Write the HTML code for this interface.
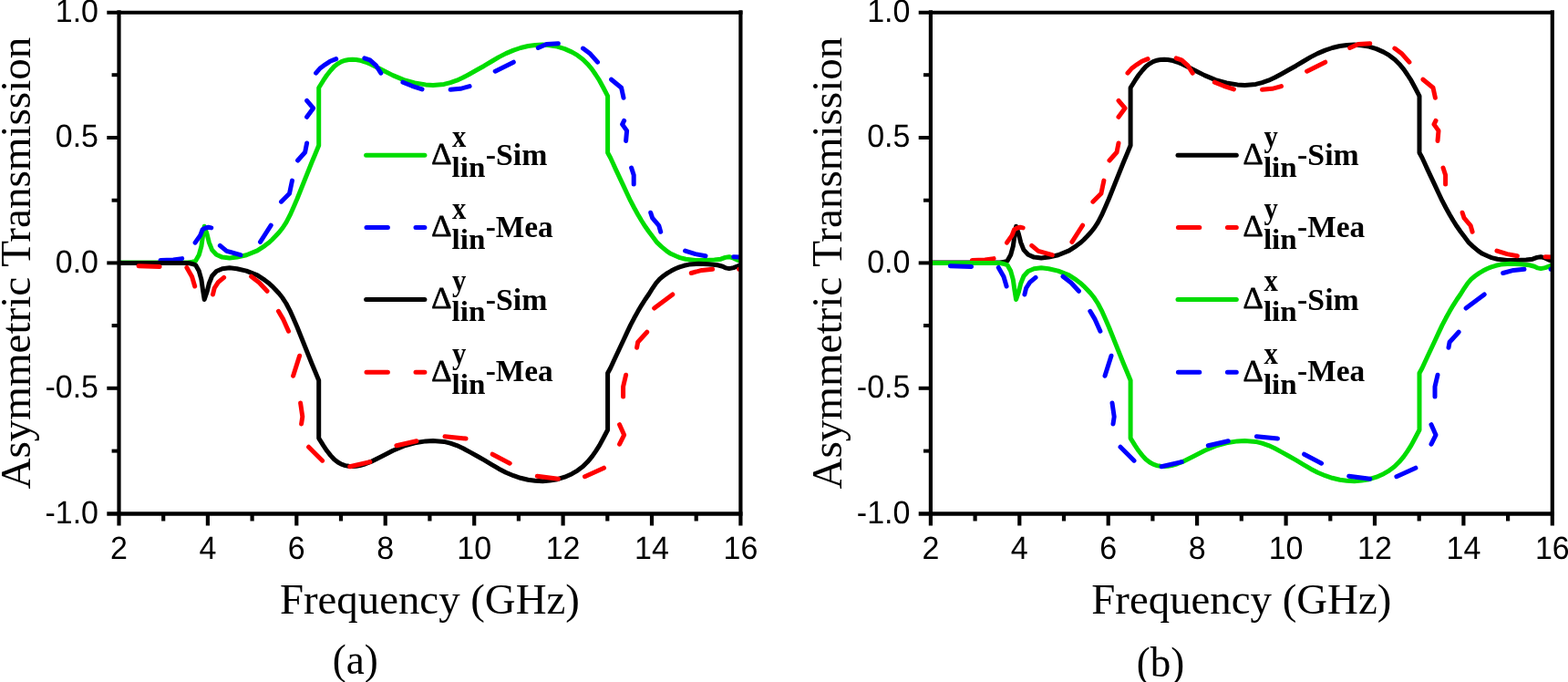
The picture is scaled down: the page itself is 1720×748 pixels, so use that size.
<!DOCTYPE html>
<html lang="en">
<head>
<meta charset="utf-8">
<title>Asymmetric Transmission</title>
<style>
html,body{margin:0;padding:0;background:#fff;}
body{width:1720px;height:748px;overflow:hidden;}
svg{display:block;}
</style>
</head>
<body>
<svg width="1720" height="748" viewBox="0 0 1720 748">
<rect x="0" y="0" width="1720" height="748" fill="#ffffff"/>
<!-- chart (a) -->
<clipPath id="clipa"><rect x="130.5" y="13.75" width="680.4" height="549.8"/></clipPath>
<g clip-path="url(#clipa)">
<polyline points="130.5,288.0 200.0,288.0 206.0,288.0 210.0,287.6 214.5,286.2 218.3,279.5 220.9,270.1 222.6,258.1 224.2,248.3 227.0,256.5 229.4,266.1 232.6,274.1 237.4,279.3 243.8,282.1 251.8,283.0 259.9,282.1 270.3,279.7 282.3,274.9 290.4,269.6 294.4,266.6 298.4,263.0 302.0,259.3 306.0,255.0 310.0,250.0 314.0,243.8 318.0,236.2 322.0,227.3 326.0,218.0 330.0,208.0 334.0,198.0 338.0,188.0 342.0,178.0 346.0,168.5 349.7,159.5 349.7,96.2 354.7,88.2 358.5,82.5 362.7,77.2 366.5,73.0 370.7,69.8 374.5,67.6 378.7,66.2 382.5,65.5 386.7,65.2 390.7,65.5 394.8,66.2 400.8,68.0 406.8,70.4 412.8,73.4 418.8,76.4 430.9,82.6 442.9,87.6 454.9,91.0 467.0,92.9 475.0,93.4 487.0,92.4 494.0,90.6 501.1,88.2 508.0,85.0 515.1,81.2 523.0,76.8 531.2,72.2 539.0,67.5 547.2,62.6 555.0,58.6 563.3,55.1 571.0,52.5 579.3,50.5 587.0,49.5 595.3,49.1 603.0,49.7 611.4,51.1 619.5,53.6 627.4,57.1 633.5,60.7 639.5,65.2 644.5,70.2 649.5,76.2 653.5,82.0 657.5,88.2 662.0,96.5 666.6,105.3 666.6,167.5 669.6,173.0 672.6,179.5 675.6,186.1 679.6,194.6 683.6,203.1 687.6,211.7 691.6,220.2 695.7,228.0 699.7,235.2 703.7,242.0 707.7,248.3 711.7,254.0 715.7,259.3 720.9,266.2 725.7,270.6 731.4,275.4 735.8,278.3 741.9,281.0 745.8,282.6 752.3,284.2 762.8,285.6 773.3,285.6 783.7,285.1 790.7,284.2 795.6,282.4 799.8,281.7 804.7,283.1 810.2,285.6 812.3,286.3" fill="none" stroke="#00dc00" stroke-width="5.0" stroke-linejoin="round" stroke-linecap="butt"/>
<path d="M176.0 285.4 L190.1 285.0 L199.7 283.6 M214.1 266.1 L219.7 258.1 L222.2 251.7 L225.5 250.0 L228.6 249.3 L231.8 249.9 M241.4 269.3 L248.6 275.3 L263.9 279.7 M285.5 265.3 L297.2 247.2 M308.5 221.2 L317.5 212.2 L320.5 198.1 M326.6 176.0 L334.6 167.0 L336.6 157.0 M336.6 128.3 L343.6 118.7 L336.6 110.3 M346.6 80.2 L351.0 75.0 L356.7 70.8 L362.0 67.3 L368.7 64.6 M399.8 63.8 L405.8 65.8 L412.8 72.2 L417.8 80.2 M441.9 90.2 L452.0 94.3 L463.0 97.9 M494.1 98.3 L505.1 97.3 L515.1 94.6 M543.2 78.2 L563.3 68.2 M590.3 52.5 L599.4 48.5 L612.4 47.7 M639.5 53.1 L647.5 59.1 L655.5 68.2 M670.6 87.2 L681.6 96.3 L684.0 107.3 M684.6 132.4 L682.6 136.4 L687.6 143.4 L686.6 154.4 M692.6 184.1 L695.2 192.1 L695.2 202.1 M713.7 233.2 L715.7 239.2 L722.7 247.3 L724.7 254.3 M751.6 275.1 L762.8 278.6 L774.0 280.7 M804.7 281.7 L812.3 282.1" fill="none" stroke="#0000ff" stroke-width="5.0" stroke-linejoin="round" stroke-linecap="round"/>
<polyline points="130.5,288.4 200.0,288.4 206.0,288.4 210.0,289.2 214.5,290.6 218.3,297.3 220.9,306.7 222.6,318.7 224.2,328.5 227.0,320.3 229.4,310.7 232.6,302.7 237.4,297.5 243.8,294.7 251.8,293.8 259.9,294.7 270.3,297.1 282.3,301.9 290.4,307.2 294.4,310.2 298.4,313.8 302.0,317.5 306.0,321.8 310.0,326.8 314.0,333.0 318.0,340.6 322.0,349.5 326.0,358.8 330.0,368.8 334.0,378.8 338.0,388.8 342.0,398.8 346.0,408.3 349.7,417.3 349.7,480.6 354.7,488.6 358.5,494.3 362.7,499.6 366.5,503.8 370.7,507.0 374.5,509.2 378.7,510.6 382.5,511.3 386.7,511.6 390.7,511.3 394.8,510.6 400.8,508.8 406.8,506.4 412.8,503.4 418.8,500.4 430.9,494.2 442.9,489.2 454.9,485.8 467.0,483.9 475.0,483.4 487.0,484.4 494.0,486.2 501.1,488.6 508.0,491.8 515.1,495.6 523.0,500.0 531.2,504.6 539.0,509.3 547.2,514.2 555.0,518.2 563.3,521.7 571.0,524.3 579.3,526.3 587.0,527.3 595.3,527.7 603.0,527.1 611.4,525.7 619.5,523.2 627.4,519.7 633.5,516.1 639.5,511.6 644.5,506.6 649.5,500.6 653.5,494.8 657.5,488.6 662.0,480.3 666.6,471.5 666.6,409.3 669.6,403.8 672.6,397.3 675.6,390.7 679.6,382.2 683.6,373.7 687.6,365.1 691.6,356.6 695.7,348.8 699.7,341.6 703.7,334.8 707.7,328.5 711.7,322.8 715.7,316.3 719.6,310.6 723.5,306.2 727.9,302.5 732.0,299.6 736.3,297.1 740.8,294.8 745.4,292.9 750.5,291.3 755.8,290.1 766.3,289.2 776.7,289.7 787.2,290.8 792.8,292.2 796.3,293.9 799.8,294.6 804.7,293.6 810.2,291.5 812.3,291.0" fill="none" stroke="#000000" stroke-width="5.0" stroke-linejoin="round" stroke-linecap="butt"/>
<path d="M152.0 291.7 L175.2 292.5 M204.9 293.4 L210.6 303.5 L213.7 314.0 M233.5 323.0 L235.2 316.0 L239.3 309.7 L245.6 304.4 M275.6 303.2 L284.4 310.0 L293.0 319.3 M305.4 341.3 L310.8 350.4 L316.5 363.2 M328.6 390.2 L321.6 412.3 M329.6 442.0 L331.8 457.0 L330.6 465.0 M338.6 490.2 L353.6 505.2 M383.7 511.8 L405.8 506.6 M434.9 488.8 L456.9 483.8 M488.0 478.7 L511.1 481.1 M540.2 498.2 L559.2 508.2 M589.3 522.3 L612.4 525.3 M641.5 522.7 L662.5 513.2 M679.6 487.2 L684.6 477.1 L679.6 465.7 M683.6 435.0 L683.6 424.0 L686.6 411.3 M698.6 381.2 L699.7 375.2 L709.7 364.2 M717.7 338.1 L737.8 323.0 M758.3 299.5 L769.8 296.4 L781.6 295.3 M810.6 295.2 L812.3 295.0" fill="none" stroke="#ff0000" stroke-width="5.0" stroke-linejoin="round" stroke-linecap="round"/>
</g>
<g stroke="#000" stroke-width="4.0" fill="none" stroke-linecap="butt">
<line x1="117.3" y1="13.75" x2="814.5" y2="13.75"/>
<line x1="117.3" y1="563.5" x2="814.5" y2="563.5" stroke-width="4.3"/>
<line x1="117.3" y1="151.0" x2="130.5" y2="151.0"/>
<line x1="117.3" y1="288.4" x2="130.5" y2="288.4"/>
<line x1="117.3" y1="425.8" x2="130.5" y2="425.8"/>
<line x1="122.6" y1="82.2" x2="130.5" y2="82.2"/>
<line x1="122.6" y1="219.7" x2="130.5" y2="219.7"/>
<line x1="122.6" y1="357.1" x2="130.5" y2="357.1"/>
<line x1="122.6" y1="494.6" x2="130.5" y2="494.6"/>
</g>
<g stroke="#000" stroke-width="4.2" fill="none" stroke-linecap="butt">
<line x1="130.5" y1="11.3" x2="130.5" y2="576.5"/>
<line x1="812.4" y1="11.3" x2="812.4" y2="576.5"/>
<line x1="227.9" y1="563.5" x2="227.9" y2="576.5"/>
<line x1="325.3" y1="563.5" x2="325.3" y2="576.5"/>
<line x1="422.7" y1="563.5" x2="422.7" y2="576.5"/>
<line x1="520.2" y1="563.5" x2="520.2" y2="576.5"/>
<line x1="617.6" y1="563.5" x2="617.6" y2="576.5"/>
<line x1="715.0" y1="563.5" x2="715.0" y2="576.5"/>
<line x1="179.2" y1="563.5" x2="179.2" y2="571.5"/>
<line x1="276.6" y1="563.5" x2="276.6" y2="571.5"/>
<line x1="374.0" y1="563.5" x2="374.0" y2="571.5"/>
<line x1="471.4" y1="563.5" x2="471.4" y2="571.5"/>
<line x1="568.9" y1="563.5" x2="568.9" y2="571.5"/>
<line x1="666.3" y1="563.5" x2="666.3" y2="571.5"/>
<line x1="763.7" y1="563.5" x2="763.7" y2="571.5"/>
</g>
<g font-family="'Liberation Sans', Arial, sans-serif" font-size="34" fill="#000" text-rendering="geometricPrecision">
<text transform="translate(108.0,23.8) scale(1,1.034)" text-anchor="end">1.0</text>
<text transform="translate(108.0,161.3) scale(1,1.034)" text-anchor="end">0.5</text>
<text transform="translate(108.0,298.7) scale(1,1.034)" text-anchor="end">0.0</text>
<text transform="translate(108.0,436.1) scale(1,1.034)" text-anchor="end">-0.5</text>
<text transform="translate(108.0,573.6) scale(1,1.034)" text-anchor="end">-1.0</text>
<text transform="translate(130.5,612.9) scale(1,1.034)" text-anchor="middle">2</text>
<text transform="translate(227.9,612.9) scale(1,1.034)" text-anchor="middle">4</text>
<text transform="translate(325.3,612.9) scale(1,1.034)" text-anchor="middle">6</text>
<text transform="translate(422.7,612.9) scale(1,1.034)" text-anchor="middle">8</text>
<text transform="translate(520.2,612.9) scale(1,1.034)" text-anchor="middle">10</text>
<text transform="translate(617.6,612.9) scale(1,1.034)" text-anchor="middle">12</text>
<text transform="translate(715.0,612.9) scale(1,1.034)" text-anchor="middle">14</text>
<text transform="translate(812.4,612.9) scale(1,1.034)" text-anchor="middle">16</text>
</g>
<g font-family="'Liberation Serif', 'Times New Roman', serif" font-size="46.4" fill="#000">
<text x="471.4" y="672.7" text-anchor="middle" textLength="329" lengthAdjust="spacingAndGlyphs">Frequency (GHz)</text>
<text transform="translate(32.6,288.6) rotate(-90)" text-anchor="middle" textLength="496" lengthAdjust="spacingAndGlyphs">Asymmetric Transmission</text>
<text x="364.7" y="738.9" textLength="50.1" lengthAdjust="spacingAndGlyphs">(a)</text>
</g>
<path d="M401.6 170.3 L465.9 170.3" stroke="#00dc00" stroke-width="5.0" stroke-linecap="round" fill="none"/>
<g font-family="'Liberation Serif', 'Times New Roman', serif" font-size="33.5" fill="#000">
<text x="473.2" y="180.1" font-size="34.6" stroke="#000" stroke-width="0.8" stroke-linejoin="miter">Δ</text>
<text transform="translate(496.0,160.6) scale(0.914,1)" font-weight="bold" font-size="33.5">x</text>
<text transform="translate(495.5,193.6) scale(1.025,1)" font-weight="bold" font-size="32.3">lin</text>
<text transform="translate(532.7,181.4) scale(0.975,1)" font-weight="bold" font-size="34.7">-Sim</text>
</g>
<path d="M402.0 249.5 L425.4 249.5 M456.0 249.5 L465.9 249.5" stroke="#0000ff" stroke-width="5.0" stroke-linecap="round" fill="none"/>
<g font-family="'Liberation Serif', 'Times New Roman', serif" font-size="33.5" fill="#000">
<text x="473.2" y="259.3" font-size="34.6" stroke="#000" stroke-width="0.8" stroke-linejoin="miter">Δ</text>
<text transform="translate(496.0,239.8) scale(0.914,1)" font-weight="bold" font-size="33.5">x</text>
<text transform="translate(495.5,272.8) scale(1.025,1)" font-weight="bold" font-size="32.3">lin</text>
<text transform="translate(532.7,259.5) scale(0.962,1)" font-weight="bold" font-size="34.7">-Mea</text>
</g>
<path d="M401.6 328.6 L465.9 328.6" stroke="#000000" stroke-width="5.0" stroke-linecap="round" fill="none"/>
<g font-family="'Liberation Serif', 'Times New Roman', serif" font-size="33.5" fill="#000">
<text x="473.2" y="338.4" font-size="34.6" stroke="#000" stroke-width="0.8" stroke-linejoin="miter">Δ</text>
<text transform="translate(496.0,318.9) scale(0.914,1)" font-weight="bold" font-size="33.5">y</text>
<text transform="translate(495.5,351.9) scale(1.025,1)" font-weight="bold" font-size="32.3">lin</text>
<text transform="translate(532.7,339.7) scale(0.975,1)" font-weight="bold" font-size="34.7">-Sim</text>
</g>
<path d="M402.0 408.3 L425.4 408.3 M456.0 408.3 L465.9 408.3" stroke="#ff0000" stroke-width="5.0" stroke-linecap="round" fill="none"/>
<g font-family="'Liberation Serif', 'Times New Roman', serif" font-size="33.5" fill="#000">
<text x="473.2" y="418.1" font-size="34.6" stroke="#000" stroke-width="0.8" stroke-linejoin="miter">Δ</text>
<text transform="translate(496.0,398.6) scale(0.914,1)" font-weight="bold" font-size="33.5">y</text>
<text transform="translate(495.5,431.6) scale(1.025,1)" font-weight="bold" font-size="32.3">lin</text>
<text transform="translate(532.7,418.3) scale(0.962,1)" font-weight="bold" font-size="34.7">-Mea</text>
</g>
<!-- chart (b) -->
<clipPath id="clipb"><rect x="1020.9" y="13.75" width="680.4" height="549.8"/></clipPath>
<g clip-path="url(#clipb)">
<polyline points="1020.9,288.0 1090.4,288.0 1096.4,288.0 1100.4,287.6 1104.9,286.2 1108.7,279.5 1111.3,270.1 1113.0,258.1 1114.6,248.3 1117.4,256.5 1119.8,266.1 1123.0,274.1 1127.8,279.3 1134.2,282.1 1142.2,283.0 1150.3,282.1 1160.7,279.7 1172.7,274.9 1180.8,269.6 1184.8,266.6 1188.8,263.0 1192.4,259.3 1196.4,255.0 1200.4,250.0 1204.4,243.8 1208.4,236.2 1212.4,227.3 1216.4,218.0 1220.4,208.0 1224.4,198.0 1228.4,188.0 1232.4,178.0 1236.4,168.5 1240.1,159.5 1240.1,96.2 1245.1,88.2 1248.9,82.5 1253.1,77.2 1256.9,73.0 1261.1,69.8 1264.9,67.6 1269.1,66.2 1272.9,65.5 1277.1,65.2 1281.1,65.5 1285.2,66.2 1291.2,68.0 1297.2,70.4 1303.2,73.4 1309.2,76.4 1321.3,82.6 1333.3,87.6 1345.3,91.0 1357.4,92.9 1365.4,93.4 1377.4,92.4 1384.4,90.6 1391.5,88.2 1398.4,85.0 1405.5,81.2 1413.4,76.8 1421.6,72.2 1429.4,67.5 1437.6,62.6 1445.4,58.6 1453.7,55.1 1461.4,52.5 1469.7,50.5 1477.4,49.5 1485.7,49.1 1493.4,49.7 1501.8,51.1 1509.9,53.6 1517.8,57.1 1523.9,60.7 1529.9,65.2 1534.9,70.2 1539.9,76.2 1543.9,82.0 1547.9,88.2 1552.4,96.5 1557.0,105.3 1557.0,167.5 1560.0,173.0 1563.0,179.5 1566.0,186.1 1570.0,194.6 1574.0,203.1 1578.0,211.7 1582.0,220.2 1586.1,228.0 1590.1,235.2 1594.1,242.0 1598.1,248.3 1602.1,254.0 1606.1,259.3 1611.3,266.2 1616.1,270.6 1621.8,275.4 1626.2,278.3 1632.3,281.0 1636.2,282.6 1642.7,284.2 1653.2,285.6 1663.7,285.6 1674.1,285.1 1681.1,284.2 1686.0,282.4 1690.2,281.7 1695.1,283.1 1700.6,285.6 1702.7,286.3" fill="none" stroke="#000000" stroke-width="5.0" stroke-linejoin="round" stroke-linecap="butt"/>
<path d="M1066.4 285.4 L1080.5 285.0 L1090.1 283.6 M1104.5 266.1 L1110.1 258.1 L1112.6 251.7 L1115.9 250.0 L1119.0 249.3 L1122.2 249.9 M1131.8 269.3 L1139.0 275.3 L1154.3 279.7 M1175.9 265.3 L1187.6 247.2 M1198.9 221.2 L1207.9 212.2 L1210.9 198.1 M1217.0 176.0 L1225.0 167.0 L1227.0 157.0 M1227.0 128.3 L1234.0 118.7 L1227.0 110.3 M1237.0 80.2 L1241.4 75.0 L1247.1 70.8 L1252.4 67.3 L1259.1 64.6 M1290.2 63.8 L1296.2 65.8 L1303.2 72.2 L1308.2 80.2 M1332.3 90.2 L1342.4 94.3 L1353.4 97.9 M1384.5 98.3 L1395.5 97.3 L1405.5 94.6 M1433.6 78.2 L1453.7 68.2 M1480.7 52.5 L1489.8 48.5 L1502.8 47.7 M1529.9 53.1 L1537.9 59.1 L1545.9 68.2 M1561.0 87.2 L1572.0 96.3 L1574.4 107.3 M1575.0 132.4 L1573.0 136.4 L1578.0 143.4 L1577.0 154.4 M1583.0 184.1 L1585.6 192.1 L1585.6 202.1 M1604.1 233.2 L1606.1 239.2 L1613.1 247.3 L1615.1 254.3 M1642.0 275.1 L1653.2 278.6 L1664.4 280.7 M1695.1 281.7 L1702.7 282.1" fill="none" stroke="#ff0000" stroke-width="5.0" stroke-linejoin="round" stroke-linecap="round"/>
<polyline points="1020.9,288.4 1090.4,288.4 1096.4,288.4 1100.4,289.2 1104.9,290.6 1108.7,297.3 1111.3,306.7 1113.0,318.7 1114.6,328.5 1117.4,320.3 1119.8,310.7 1123.0,302.7 1127.8,297.5 1134.2,294.7 1142.2,293.8 1150.3,294.7 1160.7,297.1 1172.7,301.9 1180.8,307.2 1184.8,310.2 1188.8,313.8 1192.4,317.5 1196.4,321.8 1200.4,326.8 1204.4,333.0 1208.4,340.6 1212.4,349.5 1216.4,358.8 1220.4,368.8 1224.4,378.8 1228.4,388.8 1232.4,398.8 1236.4,408.3 1240.1,417.3 1240.1,480.6 1245.1,488.6 1248.9,494.3 1253.1,499.6 1256.9,503.8 1261.1,507.0 1264.9,509.2 1269.1,510.6 1272.9,511.3 1277.1,511.6 1281.1,511.3 1285.2,510.6 1291.2,508.8 1297.2,506.4 1303.2,503.4 1309.2,500.4 1321.3,494.2 1333.3,489.2 1345.3,485.8 1357.4,483.9 1365.4,483.4 1377.4,484.4 1384.4,486.2 1391.5,488.6 1398.4,491.8 1405.5,495.6 1413.4,500.0 1421.6,504.6 1429.4,509.3 1437.6,514.2 1445.4,518.2 1453.7,521.7 1461.4,524.3 1469.7,526.3 1477.4,527.3 1485.7,527.7 1493.4,527.1 1501.8,525.7 1509.9,523.2 1517.8,519.7 1523.9,516.1 1529.9,511.6 1534.9,506.6 1539.9,500.6 1543.9,494.8 1547.9,488.6 1552.4,480.3 1557.0,471.5 1557.0,409.3 1560.0,403.8 1563.0,397.3 1566.0,390.7 1570.0,382.2 1574.0,373.7 1578.0,365.1 1582.0,356.6 1586.1,348.8 1590.1,341.6 1594.1,334.8 1598.1,328.5 1602.1,322.8 1606.1,316.3 1610.0,310.6 1613.9,306.2 1618.3,302.5 1622.4,299.6 1626.7,297.1 1631.2,294.8 1635.8,292.9 1640.9,291.3 1646.2,290.1 1656.7,289.2 1667.1,289.7 1677.6,290.8 1683.2,292.2 1686.7,293.9 1690.2,294.6 1695.1,293.6 1700.6,291.5 1702.7,291.0" fill="none" stroke="#00dc00" stroke-width="5.0" stroke-linejoin="round" stroke-linecap="butt"/>
<path d="M1042.4 291.7 L1065.6 292.5 M1095.3 293.4 L1101.0 303.5 L1104.1 314.0 M1123.9 323.0 L1125.6 316.0 L1129.7 309.7 L1136.0 304.4 M1166.0 303.2 L1174.8 310.0 L1183.4 319.3 M1195.8 341.3 L1201.2 350.4 L1206.9 363.2 M1219.0 390.2 L1212.0 412.3 M1220.0 442.0 L1222.2 457.0 L1221.0 465.0 M1229.0 490.2 L1244.0 505.2 M1274.1 511.8 L1296.2 506.6 M1325.3 488.8 L1347.3 483.8 M1378.4 478.7 L1401.5 481.1 M1430.6 498.2 L1449.6 508.2 M1479.7 522.3 L1502.8 525.3 M1531.9 522.7 L1552.9 513.2 M1570.0 487.2 L1575.0 477.1 L1570.0 465.7 M1574.0 435.0 L1574.0 424.0 L1577.0 411.3 M1589.0 381.2 L1590.1 375.2 L1600.1 364.2 M1608.1 338.1 L1628.2 323.0 M1648.7 299.5 L1660.2 296.4 L1672.0 295.3 M1701.0 295.2 L1702.7 295.0" fill="none" stroke="#0000ff" stroke-width="5.0" stroke-linejoin="round" stroke-linecap="round"/>
</g>
<g stroke="#000" stroke-width="4.0" fill="none" stroke-linecap="butt">
<line x1="1007.7" y1="13.75" x2="1704.9" y2="13.75"/>
<line x1="1007.7" y1="563.5" x2="1704.9" y2="563.5" stroke-width="4.3"/>
<line x1="1007.7" y1="151.0" x2="1020.9" y2="151.0"/>
<line x1="1007.7" y1="288.4" x2="1020.9" y2="288.4"/>
<line x1="1007.7" y1="425.8" x2="1020.9" y2="425.8"/>
<line x1="1013.0" y1="82.2" x2="1020.9" y2="82.2"/>
<line x1="1013.0" y1="219.7" x2="1020.9" y2="219.7"/>
<line x1="1013.0" y1="357.1" x2="1020.9" y2="357.1"/>
<line x1="1013.0" y1="494.6" x2="1020.9" y2="494.6"/>
</g>
<g stroke="#000" stroke-width="4.2" fill="none" stroke-linecap="butt">
<line x1="1020.9" y1="11.3" x2="1020.9" y2="576.5"/>
<line x1="1702.8" y1="11.3" x2="1702.8" y2="576.5"/>
<line x1="1118.3" y1="563.5" x2="1118.3" y2="576.5"/>
<line x1="1215.7" y1="563.5" x2="1215.7" y2="576.5"/>
<line x1="1313.1" y1="563.5" x2="1313.1" y2="576.5"/>
<line x1="1410.6" y1="563.5" x2="1410.6" y2="576.5"/>
<line x1="1508.0" y1="563.5" x2="1508.0" y2="576.5"/>
<line x1="1605.4" y1="563.5" x2="1605.4" y2="576.5"/>
<line x1="1069.6" y1="563.5" x2="1069.6" y2="571.5"/>
<line x1="1167.0" y1="563.5" x2="1167.0" y2="571.5"/>
<line x1="1264.4" y1="563.5" x2="1264.4" y2="571.5"/>
<line x1="1361.8" y1="563.5" x2="1361.8" y2="571.5"/>
<line x1="1459.3" y1="563.5" x2="1459.3" y2="571.5"/>
<line x1="1556.7" y1="563.5" x2="1556.7" y2="571.5"/>
<line x1="1654.1" y1="563.5" x2="1654.1" y2="571.5"/>
</g>
<g font-family="'Liberation Sans', Arial, sans-serif" font-size="34" fill="#000" text-rendering="geometricPrecision">
<text transform="translate(998.4,23.8) scale(1,1.034)" text-anchor="end">1.0</text>
<text transform="translate(998.4,161.3) scale(1,1.034)" text-anchor="end">0.5</text>
<text transform="translate(998.4,298.7) scale(1,1.034)" text-anchor="end">0.0</text>
<text transform="translate(998.4,436.1) scale(1,1.034)" text-anchor="end">-0.5</text>
<text transform="translate(998.4,573.6) scale(1,1.034)" text-anchor="end">-1.0</text>
<text transform="translate(1020.9,612.9) scale(1,1.034)" text-anchor="middle">2</text>
<text transform="translate(1118.3,612.9) scale(1,1.034)" text-anchor="middle">4</text>
<text transform="translate(1215.7,612.9) scale(1,1.034)" text-anchor="middle">6</text>
<text transform="translate(1313.1,612.9) scale(1,1.034)" text-anchor="middle">8</text>
<text transform="translate(1410.6,612.9) scale(1,1.034)" text-anchor="middle">10</text>
<text transform="translate(1508.0,612.9) scale(1,1.034)" text-anchor="middle">12</text>
<text transform="translate(1605.4,612.9) scale(1,1.034)" text-anchor="middle">14</text>
<text transform="translate(1702.8,612.9) scale(1,1.034)" text-anchor="middle">16</text>
</g>
<g font-family="'Liberation Serif', 'Times New Roman', serif" font-size="46.4" fill="#000">
<text x="1361.8" y="672.7" text-anchor="middle" textLength="329" lengthAdjust="spacingAndGlyphs">Frequency (GHz)</text>
<text transform="translate(923.0,288.6) rotate(-90)" text-anchor="middle" textLength="496" lengthAdjust="spacingAndGlyphs">Asymmetric Transmission</text>
<text x="1246.7" y="741.5" textLength="52.5" lengthAdjust="spacingAndGlyphs">(b)</text>
</g>
<path d="M1292.0 170.3 L1356.3 170.3" stroke="#000000" stroke-width="5.0" stroke-linecap="round" fill="none"/>
<g font-family="'Liberation Serif', 'Times New Roman', serif" font-size="33.5" fill="#000">
<text x="1363.6" y="180.1" font-size="34.6" stroke="#000" stroke-width="0.8" stroke-linejoin="miter">Δ</text>
<text transform="translate(1386.4,160.6) scale(0.914,1)" font-weight="bold" font-size="33.5">y</text>
<text transform="translate(1385.9,193.6) scale(1.025,1)" font-weight="bold" font-size="32.3">lin</text>
<text transform="translate(1423.1,181.4) scale(0.975,1)" font-weight="bold" font-size="34.7">-Sim</text>
</g>
<path d="M1292.4 249.5 L1315.8 249.5 M1346.4 249.5 L1356.3 249.5" stroke="#ff0000" stroke-width="5.0" stroke-linecap="round" fill="none"/>
<g font-family="'Liberation Serif', 'Times New Roman', serif" font-size="33.5" fill="#000">
<text x="1363.6" y="259.3" font-size="34.6" stroke="#000" stroke-width="0.8" stroke-linejoin="miter">Δ</text>
<text transform="translate(1386.4,239.8) scale(0.914,1)" font-weight="bold" font-size="33.5">y</text>
<text transform="translate(1385.9,272.8) scale(1.025,1)" font-weight="bold" font-size="32.3">lin</text>
<text transform="translate(1423.1,259.5) scale(0.962,1)" font-weight="bold" font-size="34.7">-Mea</text>
</g>
<path d="M1292.0 328.6 L1356.3 328.6" stroke="#00dc00" stroke-width="5.0" stroke-linecap="round" fill="none"/>
<g font-family="'Liberation Serif', 'Times New Roman', serif" font-size="33.5" fill="#000">
<text x="1363.6" y="338.4" font-size="34.6" stroke="#000" stroke-width="0.8" stroke-linejoin="miter">Δ</text>
<text transform="translate(1386.4,318.9) scale(0.914,1)" font-weight="bold" font-size="33.5">x</text>
<text transform="translate(1385.9,351.9) scale(1.025,1)" font-weight="bold" font-size="32.3">lin</text>
<text transform="translate(1423.1,339.7) scale(0.975,1)" font-weight="bold" font-size="34.7">-Sim</text>
</g>
<path d="M1292.4 408.3 L1315.8 408.3 M1346.4 408.3 L1356.3 408.3" stroke="#0000ff" stroke-width="5.0" stroke-linecap="round" fill="none"/>
<g font-family="'Liberation Serif', 'Times New Roman', serif" font-size="33.5" fill="#000">
<text x="1363.6" y="418.1" font-size="34.6" stroke="#000" stroke-width="0.8" stroke-linejoin="miter">Δ</text>
<text transform="translate(1386.4,398.6) scale(0.914,1)" font-weight="bold" font-size="33.5">x</text>
<text transform="translate(1385.9,431.6) scale(1.025,1)" font-weight="bold" font-size="32.3">lin</text>
<text transform="translate(1423.1,418.3) scale(0.962,1)" font-weight="bold" font-size="34.7">-Mea</text>
</g>
</svg>
</body>
</html>
